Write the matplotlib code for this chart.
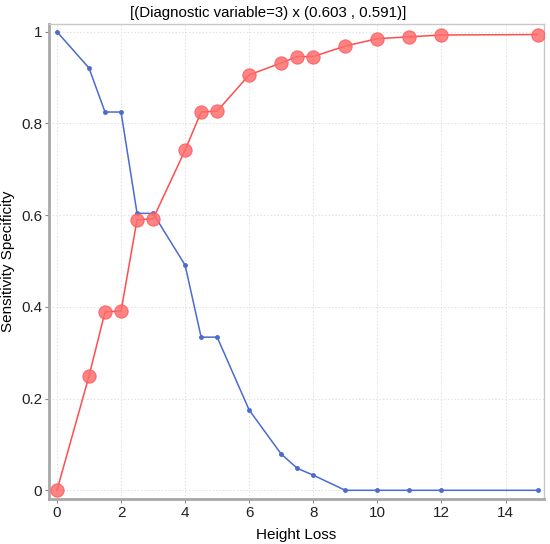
import numpy as np
import matplotlib
matplotlib.use("Agg")
import matplotlib.pyplot as plt

plt.rcParams["font.family"] = ["Liberation Sans", "DejaVu Sans"]

# DATA
height_loss = [0, 1, 1.5, 2, 2.5, 3, 4, 4.5, 5, 6, 7, 7.5, 8, 9, 10, 11, 12, 15]
sensitivity = [0, 0.249, 0.389, 0.391, 0.590, 0.592, 0.742, 0.825, 0.827, 0.906,
               0.932, 0.946, 0.946, 0.969, 0.985, 0.989, 0.993, 0.994]
specificity = [1, 0.921, 0.825, 0.825, 0.604, 0.604, 0.491, 0.334, 0.334, 0.175,
               0.079, 0.048, 0.033, 0, 0, 0, 0, 0]
x_ticks = [0, 2, 4, 6, 8, 10, 12, 14]
y_ticks = [0, 0.2, 0.4, 0.6, 0.8, 1]
y_tick_labels = ["0", "0.2", "0.4", "0.6", "0.8", "1"]

fig = plt.figure(figsize=(5.5, 5.44), dpi=100)
ax = fig.add_axes([0.089, 0.0827, 0.900, 0.8732])

# PLOT
ax.plot(height_loss, specificity, color="#4a6bd0", lw=1.1,
        marker="o", ms=2.5, mfc="#4a6bd0", mec="#4a6bd0", zorder=3)
ax.plot(height_loss, sensitivity, color="#ff4d4d", lw=1.1, zorder=4)
ax.plot(height_loss, sensitivity, ls="none", marker="o", ms=9.5,
        mfc="#ff6e6e", mec="#ff5a5a", mew=0.8, alpha=0.85, zorder=5)

# AXES
ax.set_xlim(-0.25, 15.2)
ax.set_ylim(-0.019, 1.017)
ax.set_xticks(x_ticks)
ax.set_yticks(y_ticks)
ax.set_yticklabels(y_tick_labels)
ax.tick_params(labelsize=11, colors="#222222", length=3, width=0.8, pad=2)
ax.tick_params(axis="both", color="#888888")
ax.grid(True, ls=(0, (1.5, 2)), color="#e0e0e0", lw=0.7)
ax.set_axisbelow(True)

for side in ["left", "bottom"]:
    ax.spines[side].set_color("#a8a8a8")
    ax.spines[side].set_linewidth(2)
for side in ["top", "right"]:
    ax.spines[side].set_color("#c8c8c8")
    ax.spines[side].set_linewidth(1)

ax.set_xlabel("Height Loss", fontsize=11)
ax.xaxis.set_label_coords(0.5, -0.06)
ax.set_ylabel("Sensitivity Specificity", fontsize=11)
ax.yaxis.set_label_coords(-0.069, 0.5)
fig.text(0.488, 0.976, "[(Diagnostic variable=3) x (0.603 , 0.591)]",
         ha="center", va="center", fontsize=10.8)

fig.savefig("out.png", dpi=100)
